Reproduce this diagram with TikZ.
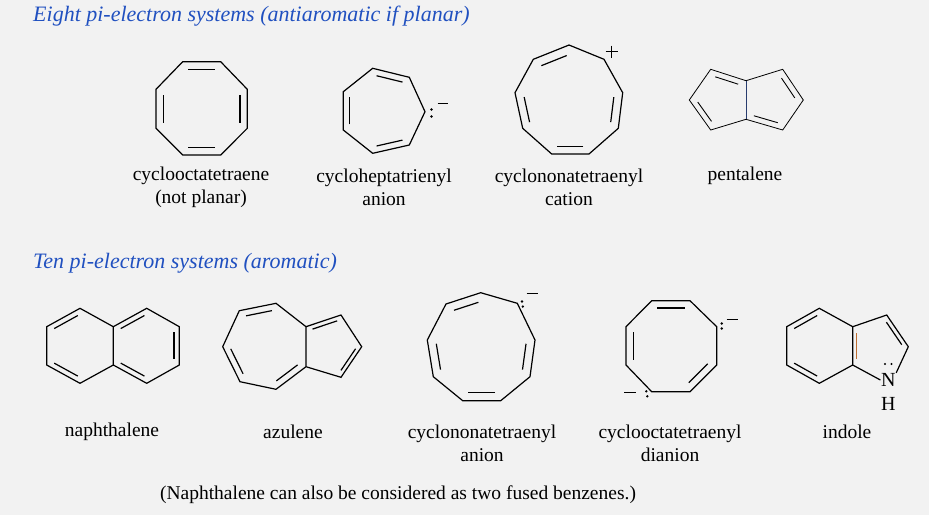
\documentclass[tikz,border=0pt]{standalone}
\usepackage{fontspec}
\setmainfont{Liberation Serif}
\usetikzlibrary{calc}
\definecolor{bg}{HTML}{F2F2F2}
\definecolor{ttl}{HTML}{2050C0}
\tikzset{bond/.style={line width=1.2pt,line join=miter},
 lbl/.style={font=\fontsize{19.5}{23}\selectfont,align=center,inner sep=0pt},
 ttlstyle/.style={font=\fontsize{22}{25}\selectfont\itshape,text=ttl,anchor=west,inner sep=0pt},
 dotc/.style={circle,fill,inner sep=0pt,minimum size=2.6pt}}
\newcommand\db[3]{\draw[bond,shorten <=2.5pt,shorten >=2.5pt] ($(#1)!0.16!(#3)$) -- ($(#2)!0.16!(#3)$);}
\newcommand\ring[2]{\foreach \xx/\yy [count=\i] in {#2}{\coordinate (#1\i) at (\xx,\yy);}}
\begin{document}
\begin{tikzpicture}[x=1pt,y=-1pt]
\fill[bg] (0,0) rectangle (929,515);
\useasboundingbox (0,0) rectangle (929,515);
\node[ttlstyle] (t1) at (33,16) {Eight pi-electron systems (antiaromatic if planar)};
\node[ttlstyle] (t2) at (33,263) {Ten pi-electron systems (aromatic)};
% COT
\ring{a}{182.7/61.7,220.7/61.7,247.3/89.3,247.3/128.3,220.7/155,182.7/155,156/128.3,156/89.3}
\coordinate (ac) at (201.7,108.3);
\draw[bond] (a1)--(a2)--(a3)--(a4)--(a5)--(a6)--(a7)--(a8)--cycle;
\db{a1}{a2}{ac}\db{a3}{a4}{ac}\db{a5}{a6}{ac}\db{a7}{a8}{ac}
% heptatrienyl
\ring{b}{372.7/68.3,409.3/77.3,425/111.7,409.3/145,372.7/153.3,343.3/130,343.3/91.7}
\coordinate (bc) at (382,111);
\draw[bond] (b1)--(b2)--(b3)--(b4)--(b5)--(b6)--(b7)--cycle;
\db{b1}{b2}{bc}\db{b4}{b5}{bc}\db{b6}{b7}{bc}
\node[dotc] (bd1) at (431.5,109.5) {}; \node[dotc] (bd2) at (431.5,116.5) {};
\draw[line width=0.9pt] (437.5,103.5) -- (448,103.5);
% cation
\ring{c}{569/45,604/59.3,622.7/92.7,618.3/128.3,589/154,551.7/154,522.7/128.3,515/92.7,533.3/59.3}
\coordinate (cc) at (569,105);
\draw[bond] (c1)--(c2)--(c3)--(c4)--(c5)--(c6)--(c7)--(c8)--(c9)--cycle;
\db{c9}{c1}{cc}\db{c3}{c4}{cc}\db{c5}{c6}{cc}\db{c7}{c8}{cc}
\draw[line width=0.9pt] (605.5,51.7) -- (618,51.7) (611.7,45.5) -- (611.7,58);
% pentalene
\ring{p}{710.7/69.3,746/80.7,746/119.3,710.7/130,689.3/100,782.7/69.3,803.3/100,782.7/130}
\coordinate (pl) at (721,100); \coordinate (pr) at (771,100);
\draw[line width=0.8pt] (p1)--(p2)--(p6)--(p7)--(p8)--(p3)--(p4)--(p5)--cycle;
\draw[line width=0.8pt,draw={rgb,255:red,40;green,60;blue,110}] (p2)--(p3);
\draw[line width=0.9pt,shorten <=2.5pt,shorten >=2.5pt] ($(p1)!0.22!(pl)$)--($(p2)!0.22!(pl)$);
\draw[line width=0.9pt,shorten <=2.5pt,shorten >=2.5pt] ($(p4)!0.22!(pl)$)--($(p5)!0.22!(pl)$);
\draw[line width=0.9pt,shorten <=2.5pt,shorten >=2.5pt] ($(p6)!0.22!(pr)$)--($(p7)!0.22!(pr)$);
\draw[line width=0.9pt,shorten <=2.5pt,shorten >=2.5pt] ($(p3)!0.22!(pr)$)--($(p8)!0.22!(pr)$);
% top labels
\node[lbl] (l1) at (201,187) {cyclooctatetraene\\(not planar)};
\node[lbl] (l2) at (384,187) {cycloheptatrienyl\\anion};
\node[lbl] (l3) at (569,187) {cyclononatetraenyl\\cation};
\node[lbl] (l4) at (745,176) {pentalene};
% naphthalene
\ring{n}{80/308.3,113.3/326.7,113.3/365,80/383.3,46.7/365,46.7/326.7,146.7/308.3,179.3/326.7,179.3/365,146.7/383.3}
\coordinate (nl) at (80,345.8); \coordinate (nr) at (146.3,345.8);
\draw[bond] (n1)--(n2)--(n3)--(n4)--(n5)--(n6)--cycle (n2)--(n7)--(n8)--(n9)--(n10)--(n3);
\db{n6}{n1}{nl}\db{n4}{n5}{nl}\db{n2}{n7}{nr}\db{n8}{n9}{nr}\db{n3}{n10}{nr}
% azulene
\ring{z}{276/303.3,306/326.7,306/366.7,276/389.3,240/381.7,222.7/346.7,239.3/310.7,341/315,361.7/346.7,341/377.3}
\coordinate (zc) at (266,346); \coordinate (zr) at (332,346.7);
\draw[bond] (z1)--(z2)--(z3)--(z4)--(z5)--(z6)--(z7)--cycle (z2)--(z8)--(z9)--(z10)--(z3);
\db{z7}{z1}{zc}\db{z5}{z6}{zc}\db{z3}{z4}{zc}\db{z2}{z8}{zr}\db{z9}{z10}{zr}
% nonatetraenyl anion
\ring{m}{480.7/292.7,517.3/303.3,535/340,530/376.7,500.7/400.7,462.7/400.7,433.3/376.7,427.3/340,446/304}
\coordinate (mc) at (481,348);
\draw[bond] (m1)--(m2)--(m3)--(m4)--(m5)--(m6)--(m7)--(m8)--(m9)--cycle;
\db{m9}{m1}{mc}\db{m3}{m4}{mc}\db{m5}{m6}{mc}\db{m7}{m8}{mc}
\node[dotc] (md1) at (522,301.5) {}; \node[dotc] (md2) at (522.8,306.5) {};
\draw[line width=0.9pt] (526.7,293.3) -- (538.3,293.3);
% COT dianion
\ring{d}{651.7/300.7,690/300.7,716.7/326.7,716.7/365,690/391.7,651.7/391.7,626/365,626/326.7}
\coordinate (dc) at (671.3,346.2);
\draw[bond] (d1)--(d2)--(d3)--(d4)--(d5)--(d6)--(d7)--(d8)--cycle;
\db{d1}{d2}{dc}\db{d7}{d8}{dc}\db{d4}{d5}{dc}
\node[dotc] (dd1) at (721.7,323.5) {}; \node[dotc] (dd2) at (721.7,328.5) {};
\draw[line width=0.9pt] (726.7,319) -- (738.3,319);
\node[dotc] (dd3) at (646.3,391.3) {}; \node[dotc] (dd4) at (647.3,396.3) {};
\draw[line width=0.9pt] (624,392.7) -- (635.5,392.7);
% indole
\ring{i}{819.3/308.3,852.7/326.7,852.7/365,819.3/383.3,786.7/365,786.7/326.7,886.7/315,908.3/346.7}
\coordinate (ic) at (819.7,345.8); \coordinate (ir) at (876,347);
\node[font=\fontsize{20}{23}\selectfont,inner sep=0.5pt] (N) at (888.3,380) {N};
\node[font=\fontsize{20}{23}\selectfont,inner sep=0.5pt] (H) at (888.3,403.5) {H};
\node[dotc,minimum size=2.3pt] (nd1) at (885,364) {}; \node[dotc,minimum size=2.3pt] (nd2) at (891.5,364) {};
\draw[bond] (i1)--(i2)--(i3)--(i4)--(i5)--(i6)--cycle (i2)--(i7)--(i8)--(N.north east) (i3)--(N.west);
\db{i6}{i1}{ic}\db{i4}{i5}{ic}\db{i7}{i8}{ir}
\draw[line width=1.1pt,draw={rgb,255:red,190;green,110;blue,50}] (856.5,333) -- (856.5,359);
% bottom labels
\node[lbl] (l5) at (112,432) {naphthalene};
\node[lbl] (l6) at (293,432) {azulene};
\node[lbl] (l7) at (482,443) {cyclononatetraenyl\\anion};
\node[lbl] (l8) at (670,443) {cyclooctatetraenyl\\dianion};
\node[lbl] (l9) at (847,432) {indole};
\node[lbl] (l10) at (398,495) {(Naphthalene can also be considered as two fused benzenes.)};
\end{tikzpicture}
\end{document}
